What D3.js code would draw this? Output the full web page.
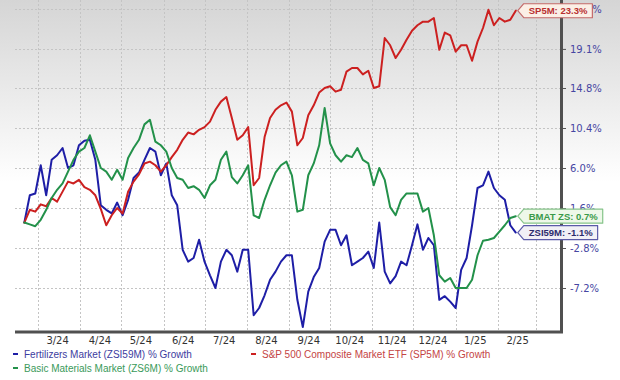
<!DOCTYPE html>
<html><head><meta charset="utf-8">
<script src="https://cdn.jsdelivr.net/npm/d3@7"></script>
<style>body{margin:0;background:#fff;} svg{display:block;}</style>
</head><body><svg id="c" width="620" height="380"></svg>
<script>
// ---- data ----
const startDate = new Date(2024, 1, 20);
const stepDays = 4;
const sp5m = [0.0,1.4,1.2,2.0,1.8,2.7,2.3,3.4,4.5,4.3, 4.7,3.9,3.6,3.0,1.5,-0.3,0.8,1.6,1.0,3.4, 4.5,5.3,6.5,6.7,6.3,5.6,6.3,7.2,8.0,9.1, 9.9,9.7,10.2,10.5,11.1,12.4,13.3,13.8,11.5,9.1, 9.6,10.5,4.1,4.9,9.4,11.5,12.4,12.9,13.2,12.2, 8.5,9.3,11.8,12.9,14.3,14.8,15.0,14.4,14.6,16.6, 17.0,17.0,16.3,16.7,14.8,15.0,20.3,19.5,18.1,19.0, 20.1,21.1,21.7,22.1,22.1,22.5,19.0,20.9,20.6,18.8, 19.5,19.5,17.8,19.9,21.4,23.4,21.7,22.5,22.1,22.3, 23.3];
const zs6m = [0.0,-0.2,-0.4,0.3,1.4,2.7,3.6,4.3,5.6,6.9, 7.8,8.2,9.6,7.8,6.0,5.6,4.7,5.8,4.7,7.1, 8.2,9.1,10.8,11.3,8.9,8.5,7.8,6.0,4.9,4.7, 3.8,4.0,3.6,2.7,4.1,4.7,6.9,7.8,5.0,4.3, 5.2,6.3,0.8,0.5,2.5,4.1,5.5,6.3,6.7,5.2, 1.2,1.4,5.2,6.5,8.5,12.6,8.7,7.4,6.7,7.4, 7.2,8.2,6.9,6.5,4.1,6.0,4.7,1.7,0.8,2.5, 3.2,3.2,3.2,1.2,1.6,-1.4,-5.8,-6.5,-6.1,-7.2, -7.2,-7.2,-6.3,-3.6,-2.0,-1.9,-1.7,-1.0,-0.3,0.5, 0.7];
const zsi59m = [0.0,3.0,3.2,6.3,3.0,6.9,7.4,8.2,6.0,6.3, 8.5,9.0,9.1,6.9,1.9,1.4,1.0,2.2,0.8,2.5, 4.9,5.5,6.9,8.2,7.8,5.2,6.5,3.0,1.9,-3.0, -4.3,-3.9,-1.9,-4.3,-5.8,-7.2,-4.3,-3.0,-3.6,-5.4, -3.0,-3.0,-10.2,-9.4,-8.0,-6.3,-5.4,-4.3,-3.6,-3.6, -8.5,-11.5,-7.6,-6.0,-5.0,-2.1,-0.8,-0.8,-2.5,-1.4, -4.7,-4.3,-3.9,-3.2,-5.0,0.0,-5.4,-6.7,-5.9,-4.3, -4.7,-2.5,-0.2,-3.0,-1.7,-2.5,-8.5,-8.1,-8.7,-9.4, -5.2,-3.9,-0.3,3.8,4.1,5.6,3.8,3.0,2.5,-0.3, -1.1];
const yTicks = [-7.2, -2.8, 1.6, 6.0, 10.4, 14.8, 19.1, 23.5];
const monthLabels = ["3/24","4/24","5/24","6/24","7/24","8/24","9/24","10/24","11/24","12/24","1/25","2/25"];
const legendNames = ["Fertilizers Market (ZSI59M) % Growth", "S&P 500 Composite Market ETF (SP5M) % Growth", "Basic Materials Market (ZS6M) % Growth"];
const endTags = ["ZSI59M", "SP5M", "BMAT ZS"];

// ---- setup ----
const svg = d3.select("#c");
const L = 15, R = 561, T = 0, B = 332;
const x = d3.scaleTime().domain([new Date(2024,1,13,3,36), new Date(2025,2,19,3,36)]).range([L, R]);
const y = d3.scaleLinear().domain([-12.04, 24.48]).range([B, T]);
const dates = sp5m.map((_, i) => d3.timeDay.offset(startDate, i * stepDays));

const series = [
  {name: legendNames[0], tag: endTags[0], values: zsi59m, color: "#1e1ea6", text: "#3c3ca0", box: "#f1f0f6", boxStroke: "#5a5aa8", tagText: "#2c2c6c"},
  {name: legendNames[1], tag: endTags[1], values: sp5m, color: "#cc2020", text: "#c44444", box: "#fbefe6", boxStroke: "#c46a6a", tagText: "#b83030"},
  {name: legendNames[2], tag: endTags[2], values: zs6m, color: "#23914a", text: "#3a9a5a", box: "#eef8e9", boxStroke: "#86c48a", tagText: "#3a9a4a"}
];

// background gradient
const defs = svg.append("defs");
const g = defs.append("linearGradient").attr("id", "bg").attr("x1", 0).attr("y1", 0).attr("x2", 0).attr("y2", 1);
g.append("stop").attr("offset", "0%").attr("stop-color", "#d5d5d5");
g.append("stop").attr("offset", "55%").attr("stop-color", "#ffffff");
g.append("stop").attr("offset", "100%").attr("stop-color", "#ffffff");
svg.append("rect").attr("x", 0).attr("y", T).attr("width", 620).attr("height", B - T).attr("fill", "url(#bg)");

// grid
const monthStarts = d3.timeMonth.range(new Date(2024,2,1), new Date(2025,2,2));
svg.append("g").selectAll("line").data(monthStarts).join("line")
  .attr("x1", d => Math.round(x(d)) + 0.5).attr("x2", d => Math.round(x(d)) + 0.5)
  .attr("y1", T).attr("y2", B)
  .attr("stroke", "#c4c4c4").attr("stroke-dasharray", "2,2");
svg.append("g").selectAll("line").data(yTicks).join("line")
  .attr("x1", L).attr("x2", R)
  .attr("y1", d => Math.round(y(d)) + 0.5).attr("y2", d => Math.round(y(d)) + 0.5)
  .attr("stroke", "#c4c4c4").attr("stroke-dasharray", "2,2");

// axes
const yAxis = d3.axisRight(y).tickValues(yTicks).tickSize(4).tickFormat(d => d.toFixed(1) + "%");
const ya = svg.append("g").attr("transform", `translate(${R + 1},0)`).call(yAxis);
ya.select(".domain").remove();
ya.selectAll(".tick line").attr("stroke", "#555");
ya.selectAll(".tick text").attr("x", 8).attr("fill", "#4646a2")
  .style("font-family", "'DejaVu Sans', Verdana, sans-serif").style("font-size", "10px");

const labelDates = d3.timeMonth.range(new Date(2024,2,1), new Date(2025,2,1)).map(d => d3.timeDay.offset(d, 14));
const xAxis = d3.axisBottom(x).tickValues(labelDates).tickSize(0).tickFormat((d, i) => monthLabels[i]);
const xa = svg.append("g").attr("transform", `translate(0,${B})`).call(xAxis);
xa.select(".domain").remove();
xa.selectAll(".tick text").attr("y", 5).attr("dy", "0.71em").attr("fill", "#333")
  .style("font-family", "'DejaVu Sans', Verdana, sans-serif").style("font-size", "10px");

svg.append("line").attr("x1", L).attr("x2", R + 2).attr("y1", B).attr("y2", B).attr("stroke", "#505050").attr("stroke-width", 3);
svg.append("line").attr("x1", R + 0.5).attr("x2", R + 0.5).attr("y1", T).attr("y2", B).attr("stroke", "#505050").attr("stroke-width", 3);

// lines
const line = d3.line().x((d, i) => x(dates[i])).y(d => y(d));
series.forEach(s => {
  svg.append("path").datum(s.values).attr("d", line)
    .attr("fill", "none").attr("stroke", s.color).attr("stroke-width", 2)
    .attr("stroke-linejoin", "round").attr("stroke-linecap", "round");
});

// legend
const legendPos = [[13, 354], [251, 354], [13, 368]];
series.forEach((s, i) => {
  const [lx, ly] = legendPos[i];
  svg.append("line").attr("x1", lx).attr("x2", lx + 5).attr("y1", ly).attr("y2", ly)
    .attr("stroke", s.color).attr("stroke-width", 2);
  svg.append("text").attr("x", lx + 11).attr("y", ly).attr("dy", "0.35em")
    .attr("fill", s.text).style("font-family", "'Liberation Sans', Arial, sans-serif").style("font-size", "10px")
    .text(s.name);
});

// end labels
const lastX = x(dates[dates.length - 1]) + 2;
series.forEach(s => {
  const v = s.values[s.values.length - 1];
  const cy = y(v);
  const grp = svg.append("g");
  const path = grp.append("path");
  const t = grp.append("text").attr("x", lastX + 11).attr("y", cy).attr("dy", "0.35em")
    .attr("fill", s.tagText).style("font-family", "'Liberation Sans', Arial, sans-serif")
    .style("font-size", "9.5px").style("font-weight", "bold")
    .text(`${s.tag}: ${v.toFixed(1)}%`);
  const w = t.node().getComputedTextLength();
  const x0 = lastX, x1 = lastX + 11 + w + 5, h = 7;
  path.attr("d", `M${x0},${cy} L${x0 + 6},${cy - h} L${x1},${cy - h} L${x1},${cy + h} L${x0 + 6},${cy + h} Z`)
    .attr("fill", s.box).attr("stroke", s.boxStroke).attr("stroke-width", 1.2).attr("stroke-linejoin", "round");
});
</script>
</body></html>
